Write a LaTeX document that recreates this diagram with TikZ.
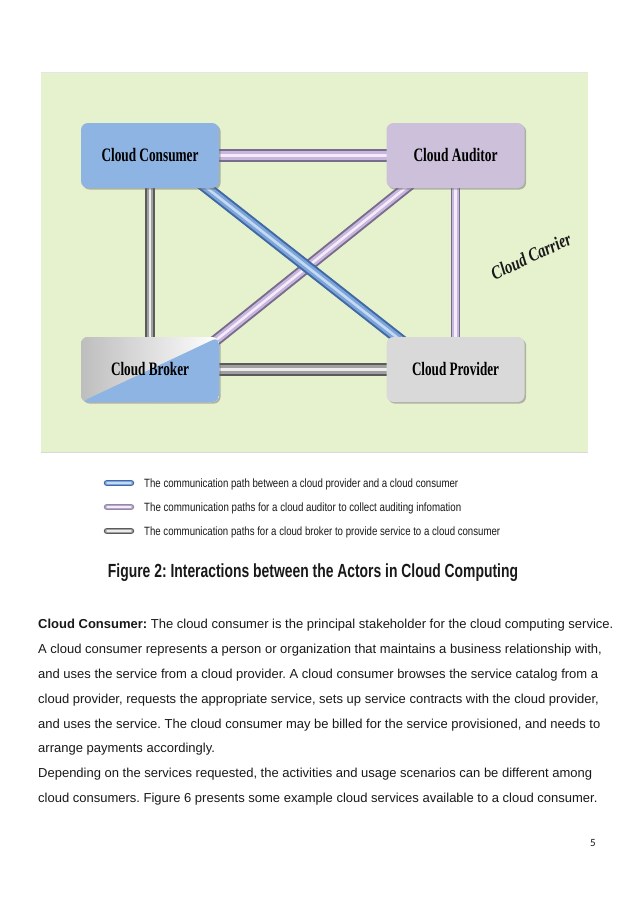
\documentclass[tikz,border=0pt]{standalone}
\usepackage{fontspec}
\setmainfont{Liberation Sans}
\newfontfamily\serifb{Liberation Serif}
\newfontfamily\carrierfont[FakeStretch=0.78]{Liberation Serif}
\newfontfamily\pagefont{Carlito}
\usetikzlibrary{shadows,calc}
\pgfdeclarelayer{back}
\pgfdeclarelayer{mid}
\pgfsetlayers{back,mid,main}
\frenchspacing

\definecolor{panelgreen}{RGB}{230,242,206}
\definecolor{consblue}{RGB}{141,180,226}
\definecolor{audpurple}{RGB}{204,192,218}
\definecolor{provgray}{RGB}{217,217,217}
\definecolor{brokgray}{RGB}{190,190,190}
\definecolor{txt}{RGB}{25,25,25}
\definecolor{pEdge}{RGB}{120,108,140}
\definecolor{pFill}{RGB}{200,182,222}
\definecolor{pHi}{RGB}{245,236,250}
\definecolor{gEdge}{RGB}{90,90,90}
\definecolor{gFill}{RGB}{160,160,160}
\definecolor{gHi}{RGB}{236,236,236}
\definecolor{bEdge}{RGB}{65,105,165}
\definecolor{bFill}{RGB}{125,165,218}
\definecolor{bHi}{RGB}{195,218,242}

\tikzset{
  actor/.style={rounded corners=7pt, minimum width=138pt, minimum height=65pt,
    inner sep=0pt, text=txt,
    drop shadow={opacity=0.45, shadow xshift=1.6pt, shadow yshift=-1.6pt, fill=black!60}},
  actortext/.style={font=\serifb\bfseries\fontsize{19}{22}\selectfont},
  legendtext/.style={anchor=west, inner sep=0pt, text=txt, font=\fontsize{12}{14}\selectfont},
  bodytext/.style={anchor=base west, inner sep=0pt, text=txt, font=\fontsize{13}{15}\selectfont},
  tubeedge/.style={line width=#1, shorten <=-8pt, shorten >=-8pt},
}

\newcommand{\tube}[6]{% from, to, width, edge, fill, highlight
  \draw[tubeedge=#3pt, #4] #1 -- #2;
  \draw[tubeedge=#3pt*0.66, #5] #1 -- #2;
  \draw[tubeedge=#3pt*0.22, #6] #1 -- #2;
}
\newcommand{\pill}[5]{% from, to, edge, fill, hi
  \draw[line width=6.5pt, line cap=round, #3] #1 -- #2;
  \draw[line width=4pt, line cap=round, #4] #1 -- #2;
  \draw[line width=1.2pt, line cap=round, #5] #1 -- #2;
}

\begin{document}
\begin{tikzpicture}[x=1pt, y=-1pt]
\useasboundingbox (0,0) rectangle (638,902);

\begin{pgfonlayer}{back}
  \fill[white] (0,0) rectangle (638,902);
  \fill[panelgreen] (41,72) rectangle (588,452);
  \draw[white!90!black, line width=0.6pt] (41,72) -- (588,72);
  \draw[white!85!black, line width=0.8pt] (41,452) -- (588,452);
\end{pgfonlayer}

% actors
\node[actor, fill=consblue] (cons) at (150,155.5) {};
\node[actortext] at (cons) {\resizebox{97pt}{\height}{Cloud Consumer}};
\node[actor, fill=audpurple] (aud) at (455.5,155.5) {};
\node[actortext] at (aud) {\resizebox{84pt}{\height}{Cloud Auditor}};
\node[actor, fill=provgray] (prov) at (455.5,369.5) {};
\node[actortext] at (prov) {\resizebox{87pt}{\height}{Cloud Provider}};
\node[actor, fill=consblue,
  path picture={
    \shade[left color=brokgray, right color=white]
      (path picture bounding box.south west) rectangle (path picture bounding box.north east);
    \fill[consblue] (path picture bounding box.south west) -- (path picture bounding box.north east)
      -- (path picture bounding box.south east) -- cycle;
  }] (brok) at (150,369.5) {};
\node[actortext] at (brok) {\resizebox{78pt}{\height}{Cloud Broker}};

% connectors
\begin{pgfonlayer}{mid}
  \tube{(cons.east)}{(aud.west)}{12.5}{pEdge}{pFill}{pHi}
  \tube{(aud.south)}{(prov.north)}{9.5}{pEdge}{pFill}{pHi}
  \tube{(cons.south)}{(brok.north)}{9.5}{gEdge}{gFill}{gHi}
  \tube{(brok.east)}{(prov.west)}{12.5}{gEdge}{gFill}{gHi}
  \tube{($(aud.south west)+(19,0)$)}{($(brok.north east)+(-4,4)$)}{11.5}{pEdge}{pFill}{pHi}
  \tube{($(cons.south east)+(-12,0)$)}{($(prov.north west)+(10,0)$)}{12}{bEdge}{bFill}{bHi}
\end{pgfonlayer}

\node[rotate=25, inner sep=0pt, text=txt, font=\carrierfont\bfseries\itshape\fontsize{19}{21}\selectfont]
  (carrier) at (531,256) {Cloud Carrier};

% legend
\coordinate (l1a) at (107,483); \coordinate (l1b) at (131,483);
\coordinate (l2a) at (107,507); \coordinate (l2b) at (131,507);
\coordinate (l3a) at (107,531); \coordinate (l3b) at (131,531);
\pill{(l1a)}{(l1b)}{bEdge}{bFill}{bHi}
\pill{(l2a)}{(l2b)}{pEdge!80}{pFill!90!black}{pHi}
\pill{(l3a)}{(l3b)}{gEdge}{gFill}{gHi}
\node[legendtext] (lt1) at (144,484) {\resizebox{314pt}{\height}{The communication path between a cloud provider and a cloud consumer}};
\node[legendtext] (lt2) at (144,508) {\resizebox{317pt}{\height}{The communication paths for a cloud auditor to collect auditing infomation}};
\node[legendtext] (lt3) at (144,532) {\resizebox{356pt}{\height}{The communication paths for a cloud broker to provide service to a cloud consumer}};

% caption
\node[inner sep=0pt, text=txt, font=\bfseries\fontsize{19}{22}\selectfont] (cap) at (313,573)
  {\resizebox{410pt}{\height}{Figure 2: Interactions between the Actors in Cloud Computing}};

% body
\node[bodytext] at (38,628) {\textbf{Cloud Consumer:} The cloud consumer is the principal stakeholder for the cloud computing service.};
\node[bodytext] at (38,653) {A cloud consumer represents a person or organization that maintains a business relationship with,};
\node[bodytext] at (38,678) {and uses the service from a cloud provider. A cloud consumer browses the service catalog from a};
\node[bodytext] at (38,703) {cloud provider, requests the appropriate service, sets up service contracts with the cloud provider,};
\node[bodytext] at (38,728) {and uses the service. The cloud consumer may be billed for the service provisioned, and needs to};
\node[bodytext] at (38,752.5) {arrange payments accordingly.};
\node[bodytext] at (38,777) {Depending on the services requested, the activities and usage scenarios can be different among};
\node[bodytext] at (38,802) {cloud consumers. Figure 6 presents some example cloud services available to a cloud consumer.};

\node[inner sep=0pt, text=txt, font=\pagefont\fontsize{11}{13}\selectfont] (pg) at (593,843) {5};
\end{tikzpicture}
\end{document}
